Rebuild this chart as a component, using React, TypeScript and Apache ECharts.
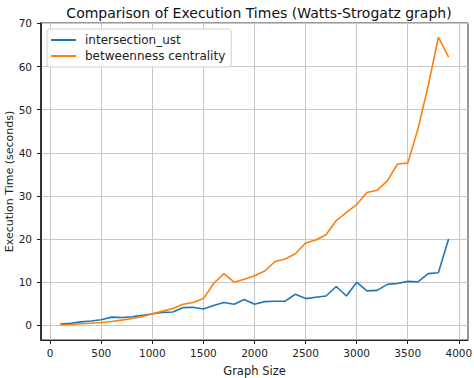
import React, { useEffect, useRef } from "react";
import * as echarts from "echarts";

const graphSizes = [
  100, 200, 300, 400, 500, 600, 700, 800, 900, 1000,
  1100, 1200, 1300, 1400, 1500, 1600, 1700, 1800, 1900, 2000,
  2100, 2200, 2300, 2400, 2500, 2600, 2700, 2800, 2900, 3000,
  3100, 3200, 3300, 3400, 3500, 3600, 3700, 3800, 3900,
];

const intersectionUst = [
  0.3, 0.5, 0.8, 1.0, 1.3, 1.9, 1.8, 2.0, 2.3, 2.7,
  3.0, 3.1, 4.1, 4.2, 3.8, 4.6, 5.3, 4.9, 6.0, 4.9,
  5.5, 5.6, 5.6, 7.2, 6.2, 6.5, 6.8, 9.0, 6.8, 10.0,
  8.0, 8.1, 9.5, 9.7, 10.2, 10.1, 12.0, 12.2, 20.0,
];

const betweennessCentrality = [
  0.1, 0.2, 0.35, 0.5, 0.65, 0.9, 1.2, 1.6, 2.0, 2.7,
  3.3, 3.9, 4.9, 5.3, 6.2, 9.7, 12.0, 10.0, 10.7, 11.5,
  12.6, 14.8, 15.4, 16.6, 19.1, 19.8, 21.0, 24.3, 26.2, 28.0,
  30.8, 31.3, 33.5, 37.4, 37.6, 45.5, 55.5, 66.8, 62.2,
];

const xTicks = [0, 500, 1000, 1500, 2000, 2500, 3000, 3500, 4000];
const yTicks = [0, 10, 20, 30, 40, 50, 60, 70];

const FONT = "DejaVu Sans";

export default function App() {
  const ref = useRef<HTMLDivElement>(null);
  useEffect(() => {
    if (!ref.current) return;
    const chart = echarts.init(ref.current, undefined, { renderer: "svg" });
    chart.setOption({
      animation: false,
      backgroundColor: "#ffffff",
      textStyle: { fontFamily: FONT },
      title: {
        text: "Comparison of Execution Times (Watts-Strogatz graph)",
        left: 254,
        textAlign: "center",
        top: 1,
        textStyle: { fontFamily: FONT, fontSize: 14, fontWeight: "normal", color: "#111" },
      },
      legend: {
        orient: "vertical",
        left: 47,
        top: 29,
        padding: [5, 6, 5, 4],
        itemGap: 4,
        itemWidth: 25,
        itemHeight: 2,
        icon: "rect",
        backgroundColor: "#ffffff",
        borderColor: "#d0d0d0",
        borderWidth: 1,
        borderRadius: 3,
        textStyle: { fontFamily: FONT, fontSize: 12, color: "#222", padding: [0, 0, 0, 4] },
        data: ["intersection_ust", "betweenness centrality"],
      },
      grid: {
        left: 41,
        right: 6,
        top: 23,
        bottom: 38,
        show: true,
        borderColor: "#333",
        borderWidth: 1,
        outerBoundsMode: "none",
        containLabel: false,
      },
      xAxis: {
        type: "value",
        min: -90,
        max: 4090,
        name: "Graph Size",
        nameLocation: "middle",
        nameGap: 25,
        nameTextStyle: { fontFamily: FONT, fontSize: 11.5, color: "#222" },
        axisLine: { show: true, onZero: false, lineStyle: { color: "#222", width: 1 } },
        axisTick: { show: true, length: 4, customValues: xTicks, lineStyle: { color: "#222" } },
        axisLabel: {
          customValues: xTicks,
          formatter: (v: number) => String(v),
          fontFamily: FONT,
          fontSize: 10.5,
          color: "#222",
          margin: 7,
        },
        splitLine: { show: true, lineStyle: { color: "#c8c8c8", width: 1 } },
      },
      yAxis: {
        type: "value",
        min: -3.4,
        max: 70.1,
        name: "Execution Time (seconds)",
        nameLocation: "middle",
        nameGap: 26,
        nameMoveOverlap: false,
        nameTextStyle: { fontFamily: FONT, fontSize: 11, color: "#222" },
        axisLine: { show: true, onZero: false, lineStyle: { color: "#111", width: 1.5 } },
        axisTick: { show: true, length: 4, customValues: yTicks, lineStyle: { color: "#222" } },
        axisLabel: {
          customValues: yTicks,
          formatter: (v: number) => String(v),
          fontFamily: FONT,
          fontSize: 10.5,
          color: "#222",
          margin: 9,
        },
        splitLine: { show: true, lineStyle: { color: "#c8c8c8", width: 1 } },
      },
      series: [
        {
          name: "intersection_ust",
          type: "line",
          data: graphSizes.map((x, i) => [x, intersectionUst[i]]),
          showSymbol: false,
          symbol: "none",
          lineStyle: { color: "#1f77b4", width: 1.6 },
          itemStyle: { color: "#1f77b4" },
          z: 3,
        },
        {
          name: "betweenness centrality",
          type: "line",
          data: graphSizes.map((x, i) => [x, betweennessCentrality[i]]),
          showSymbol: false,
          symbol: "none",
          lineStyle: { color: "#ff7f0e", width: 1.6 },
          itemStyle: { color: "#ff7f0e" },
          z: 4,
        },
      ],
    });
    return () => chart.dispose();
  }, []);
  return (
    <div
      ref={ref}
      style={{ position: "fixed", left: 0, top: 0, width: 474, height: 378 }}
    />
  );
}
